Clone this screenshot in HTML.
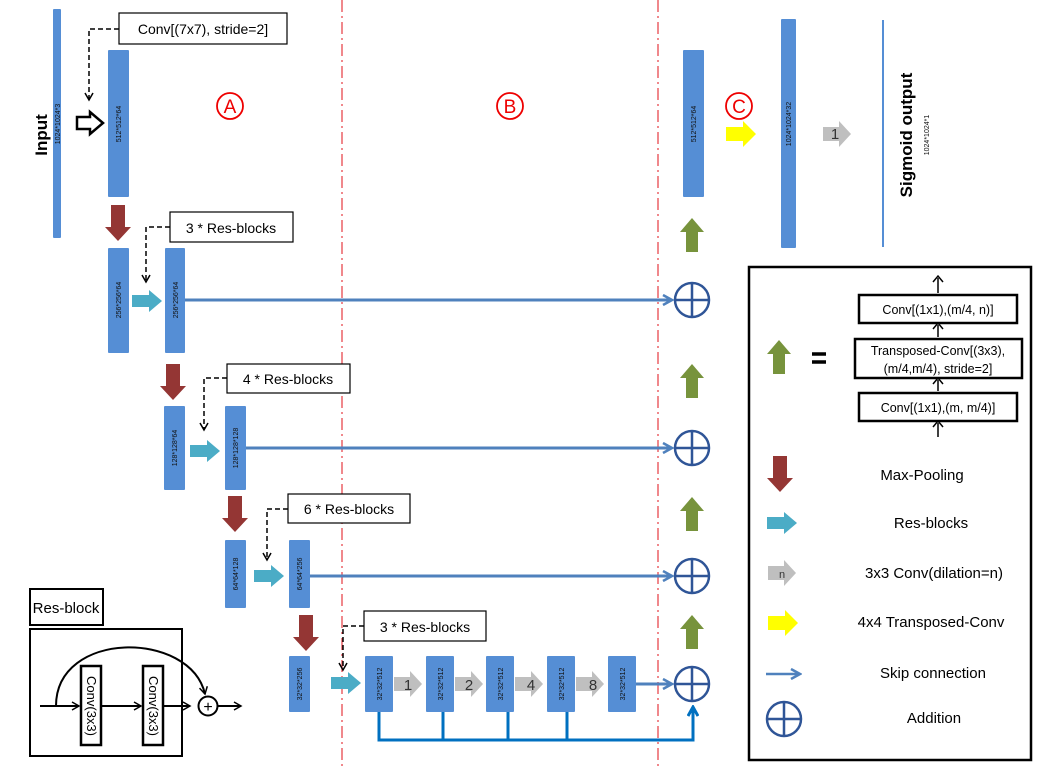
<!DOCTYPE html>
<html><head><meta charset="utf-8"><style>
html,body{margin:0;padding:0;background:#fff}
svg{display:block;font-family:"Liberation Sans",sans-serif}
</style></head><body>
<svg width="1055" height="769" viewBox="0 0 1055 769" xmlns="http://www.w3.org/2000/svg">
<defs>
<g id="mp"><path d="M6 0H20V22H26L13 36L0 22H6Z" fill="#943634"/></g>
<g id="rb"><path d="M0 5H17V0L30 11L17 22V17H0Z" fill="#4BACC6"/></g>
<g id="up"><path d="M12 0L24 14H18V34H6V14H0Z" fill="#77933C"/></g>
<g id="gr"><path d="M0 6H16V0L28 13L16 26V20H0Z" fill="#BFBFBF"/></g>
<g id="yl"><path d="M0 6H17V0L30 13L17 26V20H0Z" fill="#FFFF00"/></g>
<g id="pl"><circle cx="0" cy="0" r="17" fill="none" stroke="#2F5597" stroke-width="2.5"/><path d="M-17 0H17M0 -17V17" stroke="#2F5597" stroke-width="2.5"/></g>
<marker id="ah" markerWidth="10" markerHeight="10" refX="8" refY="5" orient="auto" markerUnits="userSpaceOnUse"><path d="M1 1L8 5L1 9" fill="none" stroke="#000" stroke-width="1.5"/></marker>
<marker id="ab" markerWidth="12" markerHeight="12" refX="10" refY="6" orient="auto" markerUnits="userSpaceOnUse"><path d="M1 1L10 6L1 11" fill="none" stroke="#4F81BD" stroke-width="2.5"/></marker>
<marker id="ab2" markerWidth="12" markerHeight="12" refX="10" refY="6" orient="auto" markerUnits="userSpaceOnUse"><path d="M1 1L10 6L1 11" fill="none" stroke="#0070C0" stroke-width="3"/></marker>
</defs>

<path d="M342 0V769M658 0V769" stroke="#E8484F" stroke-width="1.3" stroke-dasharray="12 4 2 4"/>

<g fill="none" stroke="#E00" stroke-width="1.8"><circle cx="230" cy="106" r="13"/><circle cx="510" cy="106" r="13"/><circle cx="739" cy="106" r="13"/></g>
<g fill="#E00" font-size="19" text-anchor="middle"><text x="230" y="113">A</text><text x="510" y="113">B</text><text x="739" y="113">C</text></g>

<g stroke="#4F81BD" stroke-width="3" fill="none">
<path d="M185 300H672" marker-end="url(#ab)"/>
<path d="M246 448H672" marker-end="url(#ab)"/>
<path d="M310 576H672" marker-end="url(#ab)"/>
<path d="M636 684H672" marker-end="url(#ab)"/>
</g>
<g stroke="#0070C0" stroke-width="3" fill="none">
<path d="M379 712V740H693V707" marker-end="url(#ab2)"/>
<path d="M443 712V740M508 712V740M567 712V740"/>
</g>

<g fill="#558ED5">
<rect x="53" y="9" width="8" height="229" rx="1"/>
<rect x="108" y="50" width="21" height="147" rx="1"/>
<rect x="108" y="248" width="21" height="105" rx="1"/>
<rect x="165" y="248" width="20" height="105" rx="1"/>
<rect x="164" y="406" width="21" height="84" rx="1"/>
<rect x="225" y="406" width="21" height="84" rx="1"/>
<rect x="225" y="540" width="21" height="68" rx="1"/>
<rect x="289" y="540" width="21" height="68" rx="1"/>
<rect x="289" y="656" width="21" height="56" rx="1"/>
<rect x="365" y="656" width="28" height="56" rx="1"/>
<rect x="426" y="656" width="28" height="56" rx="1"/>
<rect x="486" y="656" width="28" height="56" rx="1"/>
<rect x="547" y="656" width="28" height="56" rx="1"/>
<rect x="608" y="656" width="28" height="56" rx="1"/>
<rect x="683" y="50" width="21" height="147" rx="1"/>
<rect x="781" y="19" width="15" height="229" rx="1"/>
</g>
<rect x="882" y="20" width="2" height="227" fill="#558ED5"/>

<g font-size="7" fill="#111" text-anchor="middle">
<text transform="translate(60,124) rotate(-90)">1024*1024*3</text>
<text transform="translate(121,124) rotate(-90)">512*512*64</text>
<text transform="translate(121,300) rotate(-90)">256*256*64</text>
<text transform="translate(178,300) rotate(-90)">256*256*64</text>
<text transform="translate(177,448) rotate(-90)">128*128*64</text>
<text transform="translate(238,448) rotate(-90)">128*128*128</text>
<text transform="translate(238,574) rotate(-90)">64*64*128</text>
<text transform="translate(302,574) rotate(-90)">64*64*256</text>
<text transform="translate(302,684) rotate(-90)">32*32*256</text>
<text transform="translate(382,684) rotate(-90)">32*32*512</text>
<text transform="translate(443,684) rotate(-90)">32*32*512</text>
<text transform="translate(503,684) rotate(-90)">32*32*512</text>
<text transform="translate(564,684) rotate(-90)">32*32*512</text>
<text transform="translate(625,684) rotate(-90)">32*32*512</text>
<text transform="translate(696,124) rotate(-90)">512*512*64</text>
<text transform="translate(791,124) rotate(-90)">1024*1024*32</text>
<text transform="translate(929,135) rotate(-90)">1024*1024*1</text>
</g>
<text transform="translate(47,135) rotate(-90)" font-size="17" font-weight="bold" text-anchor="middle">Input</text>
<text transform="translate(912,135) rotate(-90)" font-size="17" font-weight="bold" text-anchor="middle">Sigmoid output</text>

<path d="M77 117H90V112L103 123L90 134V129H77Z" fill="#fff" stroke="#000" stroke-width="2.5"/>

<g fill="#fff" stroke="#000" stroke-width="1.2">
<rect x="119" y="13" width="168" height="31"/>
<rect x="170" y="212" width="123" height="30"/>
<rect x="227" y="364" width="123" height="29"/>
<rect x="288" y="494" width="122" height="29"/>
<rect x="364" y="611" width="122" height="30"/>
</g>
<g font-size="14" text-anchor="middle">
<text x="203" y="34">Conv[(7x7), stride=2]</text>
<text x="231" y="233">3 * Res-blocks</text>
<text x="288" y="384">4 * Res-blocks</text>
<text x="349" y="514">6 * Res-blocks</text>
<text x="425" y="632">3 * Res-blocks</text>
</g>
<g stroke="#000" stroke-width="1.5" fill="none" stroke-dasharray="5 3">
<path d="M119 29H89V100" marker-end="url(#ah)"/>
<path d="M170 227H146V282" marker-end="url(#ah)"/>
<path d="M227 378H204V430" marker-end="url(#ah)"/>
<path d="M288 509H267V560" marker-end="url(#ah)"/>
<path d="M364 626H343V670" marker-end="url(#ah)"/>
</g>

<use href="#mp" x="105" y="205"/>
<use href="#mp" x="160" y="364"/>
<use href="#mp" x="222" y="496"/>
<use href="#mp" x="293" y="615"/>
<use href="#rb" x="132" y="290"/>
<use href="#rb" x="190" y="440"/>
<use href="#rb" x="254" y="565"/>
<use href="#rb" x="331" y="672"/>
<use href="#gr" x="394" y="671"/>
<use href="#gr" x="455" y="671"/>
<use href="#gr" x="515" y="671"/>
<use href="#gr" x="576" y="671"/>
<use href="#gr" x="823" y="121"/>
<g font-size="15" fill="#333" text-anchor="middle">
<text x="408" y="690">1</text><text x="469" y="690">2</text><text x="531" y="690">4</text><text x="593" y="690">8</text><text x="835" y="139">1</text>
</g>
<use href="#yl" x="726" y="121"/>
<use href="#up" x="680" y="218"/>
<use href="#up" x="680" y="364"/>
<use href="#up" x="680" y="497"/>
<use href="#up" x="680" y="615"/>
<use href="#pl" x="692" y="300"/>
<use href="#pl" x="692" y="448"/>
<use href="#pl" x="692" y="576"/>
<use href="#pl" x="692" y="684"/>

<rect x="30" y="589" width="73" height="36" fill="#fff" stroke="#000" stroke-width="2"/>
<text x="66" y="613" font-size="15" text-anchor="middle">Res-block</text>
<rect x="30" y="629" width="152" height="127" fill="#fff" stroke="#000" stroke-width="2"/>
<g stroke="#000" stroke-width="2" fill="none">
<path d="M40 706H79" marker-end="url(#ah)"/>
<path d="M101 706H141" marker-end="url(#ah)"/>
<path d="M162 706H190" marker-end="url(#ah)"/>
<path d="M218 706H241" marker-end="url(#ah)"/>
<path d="M56 706C56 630 190 630 205 694" marker-end="url(#ah)"/>
<circle cx="208" cy="706" r="9.5"/>
<rect x="81" y="666" width="20" height="79" stroke-width="2.5"/>
<rect x="143" y="666" width="20" height="79" stroke-width="2.5"/>
</g>
<text x="208" y="712" font-size="16" text-anchor="middle">+</text>
<g font-size="13" text-anchor="middle">
<text transform="translate(87,706) rotate(90)">Conv(3x3)</text>
<text transform="translate(149,706) rotate(90)">Conv(3x3)</text>
</g>

<rect x="749" y="267" width="282" height="493" fill="none" stroke="#000" stroke-width="2.5"/>
<g fill="#fff" stroke="#000" stroke-width="2.5">
<rect x="859" y="295" width="158" height="28"/>
<rect x="855" y="339" width="167" height="39"/>
<rect x="859" y="393" width="158" height="28"/>
</g>
<g stroke="#000" stroke-width="1.5" fill="none">
<path d="M938 293V278M938 337V325M938 391V380M938 437V423"/>
<path d="M933 282L938 276L943 282M933 329L938 323L943 329M933 384L938 378L943 384M933 427L938 421L943 427"/>
</g>
<g font-size="12.5" text-anchor="middle">
<text x="938" y="314">Conv[(1x1),(m/4, n)]</text>
<text x="938" y="355">Transposed-Conv[(3x3),</text>
<text x="938" y="373">(m/4,m/4), stride=2]</text>
<text x="938" y="412">Conv[(1x1),(m, m/4)]</text>
</g>
<use href="#up" x="767" y="340"/>
<path d="M812 354H826M812 362H826" stroke="#000" stroke-width="3.5"/>
<use href="#mp" x="767" y="456"/>
<use href="#rb" x="767" y="512"/>
<use href="#gr" x="768" y="560"/>
<text x="779" y="578" font-size="11" fill="#333">n</text>
<use href="#yl" x="768" y="610"/>
<path d="M766 674H800" stroke="#4F81BD" stroke-width="2.5" marker-end="url(#ab)"/>
<use href="#pl" x="784" y="719"/>
<g font-size="15" text-anchor="middle">
<text x="922" y="480">Max-Pooling</text>
<text x="931" y="528">Res-blocks</text>
<text x="934" y="578">3x3 Conv(dilation=n)</text>
<text x="931" y="627">4x4 Transposed-Conv</text>
<text x="933" y="678">Skip connection</text>
<text x="934" y="723">Addition</text>
</g>
</svg>
</body></html>
